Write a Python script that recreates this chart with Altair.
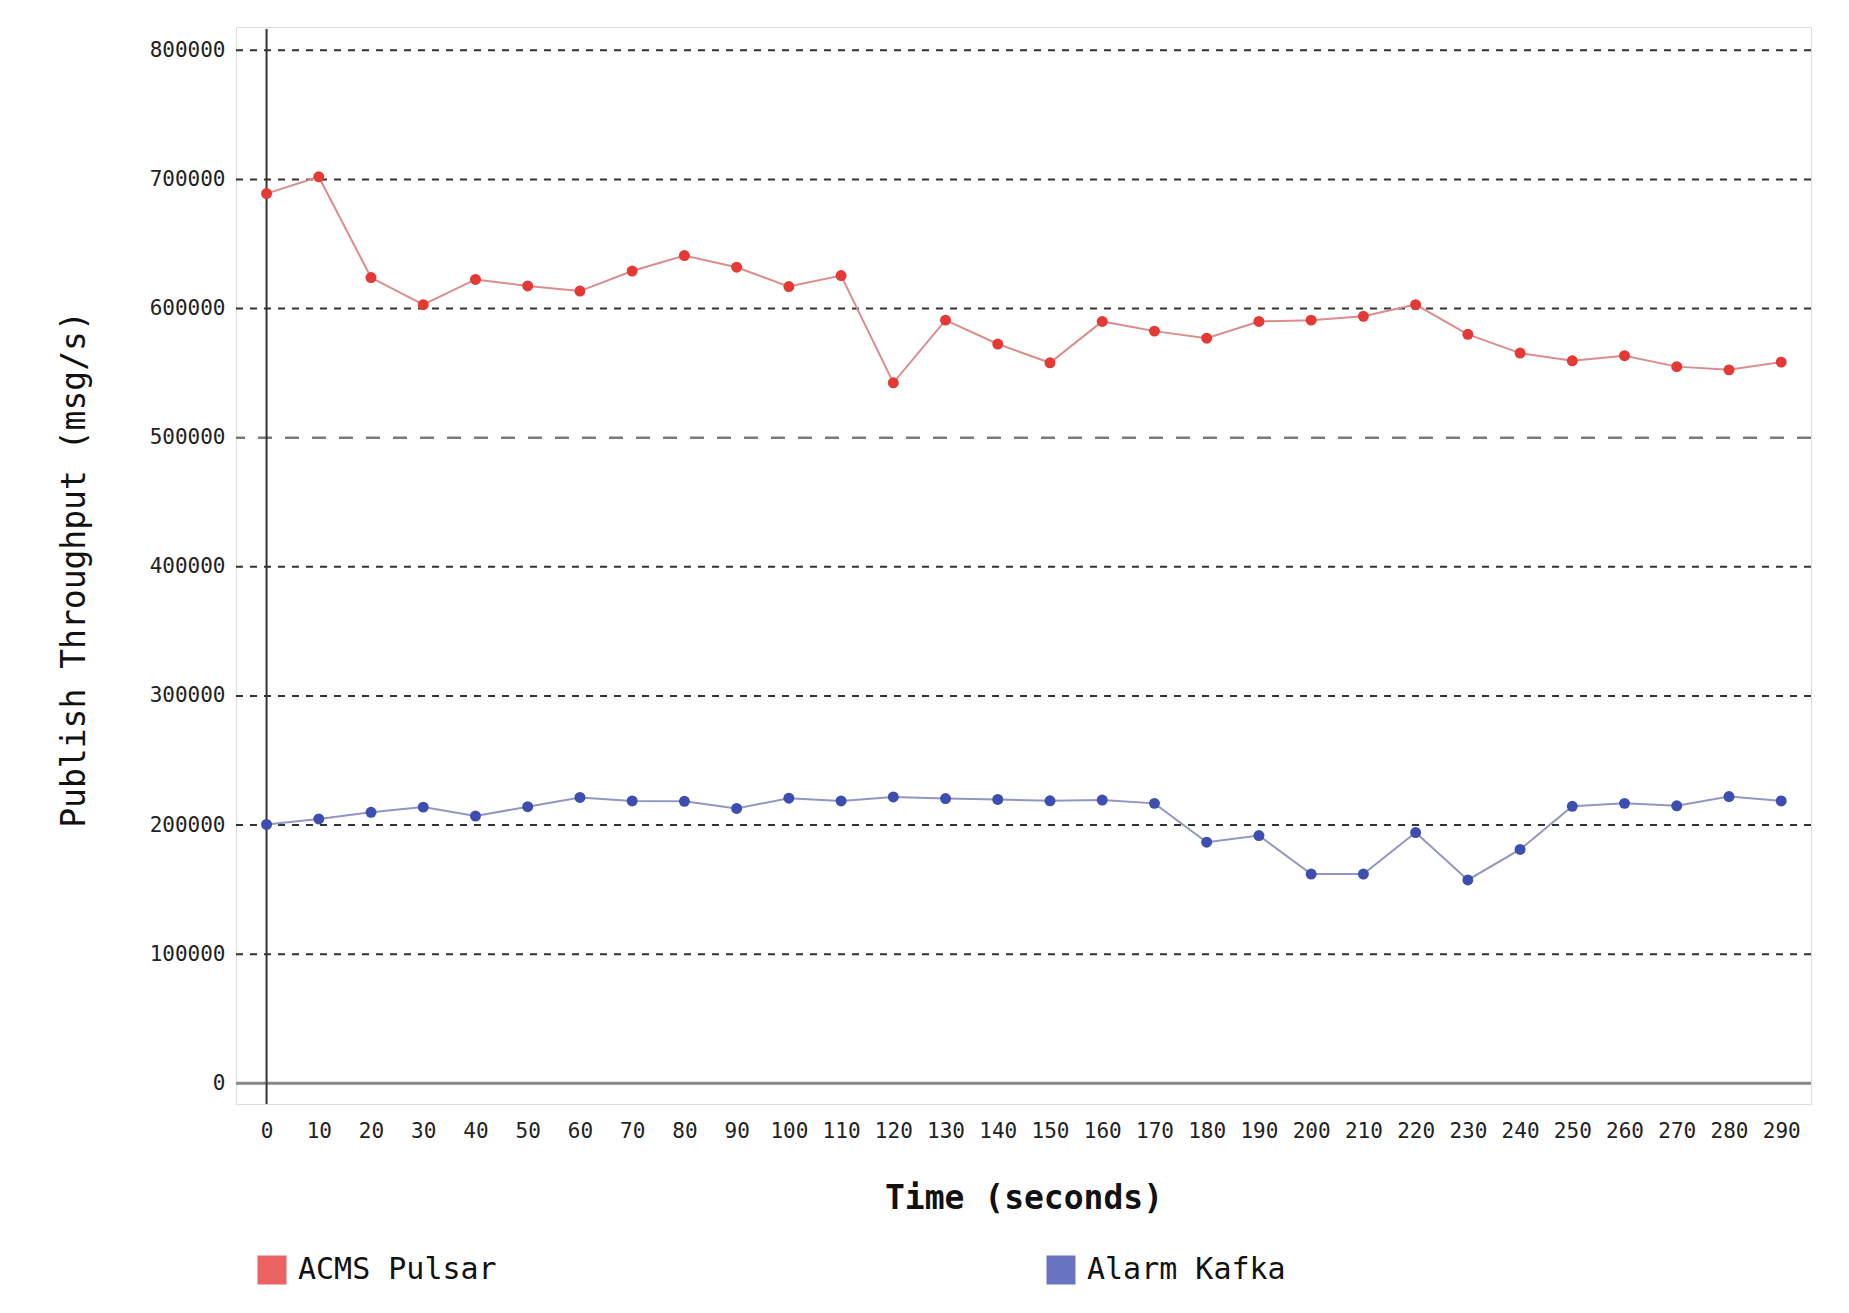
import altair as alt
import pandas as pd

times = list(range(0, 300, 10))
pulsar = [689000, 702000, 624000, 603000, 622500, 617500, 613500, 629000, 641000, 632000,
          617000, 625500, 542500, 591000, 572500, 558000, 590000, 582500, 577000, 590000,
          591000, 594000, 603000, 580000, 565500, 559500, 563500, 555000, 552500, 558500]
kafka = [200500, 204700, 209900, 213900, 207000, 214200, 221400, 218700, 218400, 212900,
         220800, 218700, 221800, 220500, 219800, 218800, 219400, 216800, 186700, 191900,
         162100, 162100, 194200, 157500, 181100, 214500, 216800, 214900, 222100, 218700]
series_names = ["ACMS Pulsar", "Alarm Kafka"]
y_ticks = [0, 100000, 200000, 300000, 400000, 500000, 600000, 700000, 800000]
x_ticks = times

df = pd.DataFrame({
    "time": times * 2,
    "value": pulsar + kafka,
    "series": [series_names[0]] * len(times) + [series_names[1]] * len(times),
})

point_colors = ["#e53935", "#3d4db0"]
line_colors = ["#dc8c8c", "#9196c2"]

W, H = 1575, 1077
xscale = alt.Scale(domain=[-5.85, 295.7], nice=False, zero=False)
yscale = alt.Scale(domain=[-16000, 818000], nice=False, zero=False)

font = "DejaVu Sans Mono"

x_axis = alt.Axis(values=x_ticks, grid=False, domain=False, ticks=False,
                  labelFont=font, labelFontSize=21, labelColor="#222222",
                  labelPadding=27, labelBaseline="middle", labelFlush=False,
                  title="Time (seconds)", titleFont=font, titleFontSize=33,
                  titleFontWeight="bold", titleColor="#111111",
                  titleY=94, titleBaseline="middle")
y_axis = alt.Axis(values=y_ticks, format="d", grid=False, domain=False, ticks=False,
                  labelFont=font, labelFontSize=21, labelColor="#222222",
                  labelPadding=11, labelFlush=False,
                  title="Publish Throughput (msg/s)", titleFont=font,
                  titleFontSize=33, titleFontWeight="normal", titleColor="#111111",
                  titleX=-162, titleY=542, titleAngle=270, titleAlign="center",
                  titleBaseline="middle")

grid_dark = alt.Chart(pd.DataFrame({"v": [v for v in y_ticks if v not in (0, 500000)]})).mark_rule(
    color="#333333", strokeWidth=2, strokeDash=[7, 7]
).encode(y=alt.Y("v:Q", scale=yscale, axis=y_axis))

grid_mid = alt.Chart(pd.DataFrame({"v": [500000]})).mark_rule(
    color="#7a7a7a", strokeWidth=2.5, strokeDash=[14, 13]
).encode(y=alt.Y("v:Q", scale=yscale, axis=y_axis))

zero_line = alt.Chart(pd.DataFrame({"v": [0]})).mark_rule(
    color="#8a8a8a", strokeWidth=3
).encode(y=alt.Y("v:Q", scale=yscale, axis=y_axis))

yaxis_line = alt.Chart(pd.DataFrame({"t": [0]})).mark_rule(
    color="#333333", strokeWidth=2
).encode(
    x=alt.X("t:Q", scale=xscale, axis=x_axis),
    y=alt.value(2),
    y2=alt.value(H),
)

base = alt.Chart(df)

lines = base.mark_line(strokeWidth=2).encode(
    x=alt.X("time:Q", scale=xscale, axis=x_axis),
    y=alt.Y("value:Q", scale=yscale, axis=y_axis),
    color=alt.Color("series:N", scale=alt.Scale(domain=series_names, range=line_colors),
                    legend=None),
    detail="series:N",
)

points = base.mark_circle(size=120, opacity=1).encode(
    x=alt.X("time:Q", scale=xscale, axis=x_axis),
    y=alt.Y("value:Q", scale=yscale, axis=y_axis),
    color=alt.Color("series:N", scale=alt.Scale(domain=series_names, range=point_colors),
                    legend=alt.Legend(orient="none", legendX=21, legendY=1228,
                                      direction="horizontal", columns=2, title=None,
                                      symbolType="square", symbolSize=841,
                                      symbolStrokeWidth=0, symbolOpacity=0.78,
                                      labelFont=font, labelFontSize=30, labelColor="#111111",
                                      labelOffset=11, columnPadding=549, padding=0,
                                      labelLimit=400)),
)

chart = alt.layer(
    grid_dark, grid_mid, zero_line, yaxis_line, lines, points
).resolve_scale(color="independent").properties(
    width=W, height=H,
    autosize=alt.AutoSizeParams(type="none"),
    padding={"left": 228, "top": 19, "right": 30, "bottom": 200},
).configure_view(stroke=None, fill="#fcfcfc").configure(background="white")

chart.save("out.html", embed_options={"renderer": "svg", "actions": False})
